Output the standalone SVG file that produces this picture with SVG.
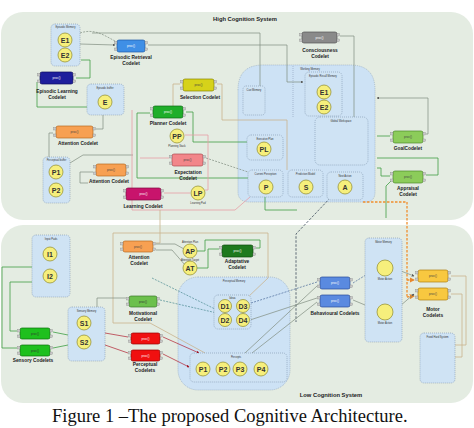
<svg xmlns="http://www.w3.org/2000/svg" width="474" height="428" viewBox="0 0 474 428">
<defs>
<marker id="arr" viewBox="0 0 6 6" refX="5" refY="3" markerWidth="4" markerHeight="4" orient="auto"><path d="M0,0 L6,3 L0,6 z" fill="#555"/></marker>
<marker id="arrO" viewBox="0 0 6 6" refX="5" refY="3" markerWidth="4" markerHeight="4" orient="auto"><path d="M0,0 L6,3 L0,6 z" fill="#e8862a"/></marker>
<marker id="arrR" viewBox="0 0 6 6" refX="5" refY="3" markerWidth="4" markerHeight="4" orient="auto"><path d="M0,0 L6,3 L0,6 z" fill="#a01020"/></marker>
</defs>
<style>
.panel{fill:#e4ece2}
.mem{fill:#cfe3f4;stroke:#7d93ad;stroke-width:0.6;stroke-dasharray:1 1}
.wm{fill:#cde2f5;stroke:#8aa0b8;stroke-width:0.6;stroke-dasharray:1 1}
.pin{fill:#c9c9c9;stroke:#777;stroke-width:0.3}
.cd{stroke-width:0.7}
.proc{font-family:"Liberation Sans",Arial,sans-serif;font-size:3px;text-anchor:middle}
.lbl{font-family:"Liberation Sans",Arial,sans-serif;font-size:4.8px;font-weight:bold;fill:#222;text-anchor:middle}
.tiny{font-family:"Liberation Sans",Arial,sans-serif;font-size:2.6px;fill:#333;text-anchor:middle}
.cir{fill:#f6ef7c;stroke:#8e8a2c;stroke-width:0.7}
.ct{font-family:"Liberation Sans",Arial,sans-serif;font-size:7px;font-weight:bold;fill:#333;text-anchor:middle}
.title{font-family:"Liberation Sans",Arial,sans-serif;font-size:5.8px;font-weight:bold;fill:#222;text-anchor:middle}
.caption{font-family:"Liberation Serif","Times New Roman",serif;font-size:18.5px;fill:#111}
.g{fill:none;stroke:#7f8c80;stroke-width:0.7}
.gr{fill:none;stroke:#3f9f45;stroke-width:0.8}
.pk{fill:none;stroke:#e6a0a6;stroke-width:0.8}
.tn{fill:none;stroke:#c9b48e;stroke-width:0.8}
.rd{fill:none;stroke:#b02030;stroke-width:0.7}
.dsh{stroke-dasharray:2 1.2}
.tl{fill:none;stroke:#4a8a90;stroke-width:0.7;stroke-dasharray:2 1.2}
.bl{fill:none;stroke:#4a6a9a;stroke-width:0.7;stroke-dasharray:2 1.2}
.or{fill:none;stroke:#ef8f2f;stroke-width:1.3;stroke-dasharray:2.5 1.5}
.dk{fill:none;stroke:#3b4a5a;stroke-width:0.8;stroke-dasharray:2.5 1.5}
</style>
<rect width="474" height="428" fill="#ffffff"/>
<g id="high-system">
<rect class="panel" x="1" y="12" width="472" height="208" rx="22"/>
<text class="title" x="245" y="21">High Cognition System</text>
</g>
<g id="low-system">
<rect class="panel" x="1" y="225" width="472" height="178" rx="22"/>
<text class="title" x="331" y="397">Low Cognition System</text>
</g>

<g id="working-memory">
<path class="wm" d="M238,90 Q238,65 263,65 H350 Q375,65 375,90 V192 Q375,202 365,202 H250 Q238,202 238,192 Z"/>
<path d="M293,117 V65" fill="none" stroke="#8aa0b8" stroke-width="0.6" stroke-dasharray="1 1"/>
<text class="tiny" x="310" y="69.5">Working Memory</text>
</g>
<g id="perceptual-memory">
<rect class="wm" x="178" y="277" width="112" height="113" rx="20"/>
<text class="tiny" x="234" y="282">Perceptual Memory</text>
</g>

<g id="connectors">
<path class="g" d="M80,44 L115,45" marker-end="url(#arr)"/>
<path class="g dsh" d="M80,33 C95,28 105,36 115,41"/>
<path class="g" d="M92,33 H260 V86"/>
<path class="g" d="M148,45 H287 V82 H303" marker-end="url(#arr)"/>
<path class="gr" d="M76,78 H90 V60 H81"/>
<path class="gr" d="M37,82 V107 H87"/>
<path class="g" d="M96,129 H103 V115"/>
<path class="g" d="M53,133 H49 V157"/>
<path class="g" d="M70,163 L83,155 H133"/>
<path class="g" d="M93,172 H80 V183 H88"/>
<path class="gr" d="M186,112 H193 V142 H247"/>
<path class="gr" d="M150,113 H137 V178 H248"/>
<path class="pk" d="M185,135 H208 V190 H205"/>
<path class="pk" d="M132,110 V210 H235 L250,197"/>
<path class="pk" d="M140,158 H169"/>
<path class="g dsh" d="M206,158 L248,172"/>
<path class="pk" d="M164,193 H190"/>
<path class="tn" d="M180,84 H173 V106"/>
<path class="tn" d="M217,84 H222 V120 H287 V170"/>
<path class="g" d="M340,36 H354 V117"/>
<path class="g" d="M426,134 H428 V98 H377" marker-end="url(#arr)"/>
<path class="gr" d="M390,136 H377"/>
<path class="gr" d="M426,175 H438 V158 H377"/>
<path class="gr" d="M390,176 H381 V168 H377"/>
<path class="gr" d="M391,181 L386,186 V218"/>
<path class="gr" d="M265,197 V210 H297"/>
<path class="tn" d="M160,210 V243 H156"/>
<path class="or" d="M363,202 H407 V297"/>
<path class="or" d="M407,280 H414" marker-end="url(#arrO)"/>
<path class="or" d="M407,297 L414,296" marker-end="url(#arrO)"/>
<path class="dk" d="M333,195 L296,234 V322"/>

<path class="gr" d="M17,331 H10 V282 H32"/>
<path class="gr" d="M17,348 H2 V267 H32"/>
<path class="gr" d="M53,332 L68,335"/>
<path class="gr" d="M53,348 L68,345"/>
<path class="rd" d="M105,333 L128,337"/>
<path class="rd" d="M105,345 L128,353"/>
<path class="rd" d="M163,337 L199,353" marker-end="url(#arrR)"/>
<path class="rd" d="M163,354 L189,367" marker-end="url(#arrR)"/>
<path class="tn" d="M205,353 L150,323 H113 V233 H268 V278 L247,298"/>
<path class="g" d="M97,307 V298 H126"/>
<path class="g" d="M156,244 H175 L184,249"/>
<path class="g" d="M156,250 H172 L185,265"/>
<path class="gr" d="M197,251 H205 V240 H260 V248 H256"/>
<path class="gr" d="M197,268 H208 V249 H219"/>
<path class="tl" d="M152,278 L217,310"/>
<path class="tl" d="M160,300 L217,313"/>
<path class="bl" d="M251,303 L317,282"/>
<path class="g" d="M250,320 L317,298"/>
<path class="g" d="M245,353 L317,286"/>
<path class="g" d="M252,353 L317,302"/>
<path class="bl" d="M353,283 L377,268"/>
<path class="g" d="M353,300 L377,310"/>
<path class="g" d="M393,268 L414,276" marker-end="url(#arr)"/>
<path class="g" d="M393,312 L414,294" marker-end="url(#arr)"/>
<path class="tn" d="M451,276 H466 V345 H455"/>
<path class="tn" d="M451,294 H462 V357 H455"/>
</g>

<!-- memories -->
<g id="episodic-memory"><rect class="mem" x="51" y="24" width="29" height="42" rx="4"/><text class="tiny" x="65.5" y="28">Episodic Memory</text>
<circle class="cir" cx="65" cy="40" r="7"/><text class="ct" x="65" y="42.5">E1</text>
<circle class="cir" cx="65" cy="55" r="7"/><text class="ct" x="65" y="57.5">E2</text></g>
<g id="episodic-buffer"><rect class="mem" x="87" y="84" width="37" height="31" rx="4"/><text class="tiny" x="105" y="88.5">Episodic buffer</text>
<circle class="cir" cx="105" cy="102" r="7"/><text class="ct" x="105" y="104.5">E</text></g>
<g id="perceptual-buffer"><rect class="mem" x="43" y="157" width="27" height="46" rx="4"/><text class="tiny" x="56.5" y="161">Perceptual buffer</text>
<circle class="cir" cx="56" cy="172" r="7"/><text class="ct" x="56" y="174.5">P1</text>
<circle class="cir" cx="56" cy="190" r="7"/><text class="ct" x="56" y="192.5">P2</text></g>
<g id="planning-stack"><circle class="cir" cx="177" cy="136" r="7"/><text class="ct" x="177" y="138.5">PP</text><text class="tiny" x="177" y="147">Planning Stack</text></g>
<g id="learning-pad"><circle class="cir" cx="198" cy="193" r="7"/><text class="ct" x="198" y="195.5">LP</text><text class="tiny" x="198" y="204">Learning Pad</text></g>
<g id="cue-memory"><rect class="mem" x="243" y="86" width="22" height="29" rx="3"/><text class="tiny" x="254" y="90.5">Cue Memory</text></g>
<g id="episodic-recall"><rect class="mem" x="305" y="72" width="37" height="44" rx="4"/><text class="tiny" x="323" y="76.5">Episodic Recall Memory</text>
<circle class="cir" cx="324" cy="92" r="7"/><text class="ct" x="324" y="94.5">E1</text>
<circle class="cir" cx="324" cy="107" r="7"/><text class="ct" x="324" y="109.5">E2</text></g>
<g id="global-workspace"><rect class="mem" x="315" y="117" width="53" height="48" rx="5"/><text class="tiny" x="341" y="121.5">Global Workspace</text></g>
<g id="executive-plan"><rect class="mem" x="247" y="135" width="36" height="25" rx="4"/><text class="tiny" x="265" y="139.5">Executive Plan</text>
<circle class="cir" cx="264" cy="149" r="7"/><text class="ct" x="264" y="151.5">PL</text></g>
<g id="current-perception"><rect class="mem" x="248" y="170" width="35" height="27" rx="4"/><text class="tiny" x="265.5" y="174.5">Current Perception</text>
<circle class="cir" cx="266" cy="187" r="7"/><text class="ct" x="266" y="189.5">P</text></g>
<g id="prediction-model"><rect class="mem" x="288" y="170" width="35" height="27" rx="4"/><text class="tiny" x="305.5" y="174.5">Prediction Model</text>
<circle class="cir" cx="306" cy="187" r="7"/><text class="ct" x="306" y="189.5">S</text></g>
<g id="next-action"><rect class="mem" x="327" y="172" width="36" height="28" rx="4"/><text class="tiny" x="345" y="176.5">Next Action</text>
<circle class="cir" cx="345" cy="187" r="7"/><text class="ct" x="345" y="189.5">A</text></g>

<g id="input-pads"><rect class="mem" x="32" y="235" width="38" height="62" rx="4"/><text class="tiny" x="51" y="239.5">Input Pads</text>
<circle class="cir" cx="50" cy="254" r="7"/><text class="ct" x="50" y="256.5">I1</text>
<circle class="cir" cx="50" cy="276" r="7"/><text class="ct" x="50" y="278.5">I2</text></g>
<g id="sensory-memory"><rect class="mem" x="68" y="307" width="37" height="54" rx="4"/><text class="tiny" x="86.5" y="311.5">Sensory Memory</text>
<circle class="cir" cx="84" cy="323" r="7"/><text class="ct" x="84" y="325.5">S1</text>
<circle class="cir" cx="84" cy="342" r="7"/><text class="ct" x="84" y="344.5">S2</text></g>
<g id="attention-plan"><text class="tiny" x="190" y="243">Attention Plan</text><circle class="cir" cx="190" cy="251" r="7"/><text class="ct" x="190" y="253.5">AP</text>
<text class="tiny" x="190" y="260.5">Attention Target</text><circle class="cir" cx="190" cy="268" r="7"/><text class="ct" x="190" y="270.5">AT</text></g>
<g id="ideas"><rect class="mem" x="214" y="295" width="37" height="34" rx="4"/><text class="tiny" x="232.5" y="299">Ideas</text>
<circle class="cir" cx="225" cy="306" r="6.5"/><text class="ct" x="225" y="308.5">D1</text>
<circle class="cir" cx="243" cy="306" r="6.5"/><text class="ct" x="243" y="308.5">D3</text>
<circle class="cir" cx="225" cy="320" r="6.5"/><text class="ct" x="225" y="322.5">D2</text>
<circle class="cir" cx="243" cy="320" r="6.5"/><text class="ct" x="243" y="322.5">D4</text></g>
<g id="percepts"><rect class="mem" x="190" y="353" width="97" height="29" rx="4"/><text class="tiny" x="236" y="357.5">Percepts</text>
<circle class="cir" cx="203" cy="369" r="7"/><text class="ct" x="203" y="371.5">P1</text>
<circle class="cir" cx="223" cy="369" r="7"/><text class="ct" x="223" y="371.5">P2</text>
<circle class="cir" cx="240" cy="369" r="7"/><text class="ct" x="240" y="371.5">P3</text>
<circle class="cir" cx="261" cy="369" r="7"/><text class="ct" x="261" y="371.5">P4</text></g>
<g id="motor-memory"><rect class="mem" x="365" y="238" width="37" height="104" rx="4"/><text class="tiny" x="383.5" y="242.5">Motor Memory</text>
<circle class="cir" cx="385" cy="268" r="8"/><text class="tiny" x="385" y="280">Motor Action</text>
<circle class="cir" cx="385" cy="312" r="8"/><text class="tiny" x="385" y="324">Motor Action</text></g>
<g id="fixed-system"><rect class="mem" x="420" y="333" width="35" height="50" rx="4"/><text class="tiny" x="437.5" y="337.5">Fixed Hard System</text></g>

<!-- codelets -->
<g id="episodic-retrieval-codelet"><rect class="cd" x="117" y="40" width="28" height="12" rx="2" fill="#3f8fe6" stroke="#1d5aa8"/>
<rect class="pin" x="114.5" y="41.5" width="2.5" height="2.5"/><rect class="pin" x="114.5" y="48" width="2.5" height="2.5"/><rect class="pin" x="145" y="41.5" width="2.5" height="2.5"/><rect class="pin" x="145" y="48" width="2.5" height="2.5"/>
<text class="proc" x="131" y="47" fill="#fff">proc()</text>
<text class="lbl" x="131" y="59">Episodic Retrieval</text><text class="lbl" x="131" y="65">Codelet</text></g>
<g id="episodic-learning-codelet"><rect class="cd" x="40" y="72" width="33" height="12" rx="2" fill="#1e1e9c" stroke="#0c0c60"/>
<rect class="pin" x="37.5" y="73.5" width="2.5" height="2.5"/><rect class="pin" x="37.5" y="80" width="2.5" height="2.5"/><rect class="pin" x="73" y="73.5" width="2.5" height="2.5"/><rect class="pin" x="73" y="80" width="2.5" height="2.5"/>
<text class="proc" x="56.5" y="79" fill="#fff">proc()</text>
<text class="lbl" x="57" y="93">Episodic Learning</text><text class="lbl" x="57" y="99">Codelet</text></g>
<g id="selection-codelet"><rect class="cd" x="183" y="79" width="31" height="12" rx="2" fill="#d6d21a" stroke="#8a8600"/>
<rect class="pin" x="180.5" y="80.5" width="2.5" height="2.5"/><rect class="pin" x="180.5" y="87" width="2.5" height="2.5"/><rect class="pin" x="214" y="80.5" width="2.5" height="2.5"/><rect class="pin" x="214" y="87" width="2.5" height="2.5"/>
<text class="proc" x="198.5" y="86" fill="#444">proc()</text>
<text class="lbl" x="200" y="99">Selection Codelet</text></g>
<g id="planner-codelet"><rect class="cd" x="153" y="106" width="30" height="12" rx="2" fill="#1fae2a" stroke="#0c6a12"/>
<rect class="pin" x="150.5" y="107.5" width="2.5" height="2.5"/><rect class="pin" x="150.5" y="114" width="2.5" height="2.5"/><rect class="pin" x="183" y="107.5" width="2.5" height="2.5"/><rect class="pin" x="183" y="114" width="2.5" height="2.5"/>
<text class="proc" x="168" y="113" fill="#fff">proc()</text>
<text class="lbl" x="168" y="125">Planner Codelet</text></g>
<g id="consciousness-codelet"><rect class="cd" x="302" y="32" width="35" height="11" rx="2" fill="#8a8a8a" stroke="#555"/>
<rect class="pin" x="299.5" y="33.5" width="2.5" height="2.5"/><rect class="pin" x="299.5" y="39" width="2.5" height="2.5"/><rect class="pin" x="337" y="33.5" width="2.5" height="2.5"/><rect class="pin" x="337" y="39" width="2.5" height="2.5"/>
<text class="proc" x="319.5" y="38.5" fill="#fff">proc()</text>
<text class="lbl" x="320" y="52">Consciousness</text><text class="lbl" x="320" y="58">Codelet</text></g>
<g id="attention-codelet-1"><rect class="cd" x="56" y="126" width="37" height="12" rx="2" fill="#f7a052" stroke="#b86a20"/>
<rect class="pin" x="53.5" y="127.5" width="2.5" height="2.5"/><rect class="pin" x="53.5" y="134" width="2.5" height="2.5"/><rect class="pin" x="93" y="127.5" width="2.5" height="2.5"/><rect class="pin" x="93" y="134" width="2.5" height="2.5"/>
<text class="proc" x="74.5" y="133" fill="#444">proc()</text>
<text class="lbl" x="78" y="145">Attention Codelet</text></g>
<g id="attention-codelet-2"><rect class="cd" x="96" y="164" width="30" height="12" rx="2" fill="#f7a052" stroke="#b86a20"/>
<rect class="pin" x="93.5" y="165.5" width="2.5" height="2.5"/><rect class="pin" x="93.5" y="172" width="2.5" height="2.5"/><rect class="pin" x="126" y="165.5" width="2.5" height="2.5"/><rect class="pin" x="126" y="172" width="2.5" height="2.5"/>
<text class="proc" x="111" y="171" fill="#444">proc()</text>
<text class="lbl" x="109" y="183">Attention Codelet</text></g>
<g id="expectation-codelet"><rect class="cd" x="172" y="154" width="31" height="12" rx="2" fill="#f2868a" stroke="#b04a50"/>
<rect class="pin" x="169.5" y="155.5" width="2.5" height="2.5"/><rect class="pin" x="169.5" y="162" width="2.5" height="2.5"/><rect class="pin" x="203" y="155.5" width="2.5" height="2.5"/><rect class="pin" x="203" y="162" width="2.5" height="2.5"/>
<text class="proc" x="187.5" y="161" fill="#444">proc()</text>
<text class="lbl" x="188" y="174">Expectation</text><text class="lbl" x="188" y="180">Codelet</text></g>
<g id="learning-codelet"><rect class="cd" x="126" y="188" width="35" height="12" rx="2" fill="#c8146c" stroke="#800840"/>
<rect class="pin" x="123.5" y="189.5" width="2.5" height="2.5"/><rect class="pin" x="123.5" y="196" width="2.5" height="2.5"/><rect class="pin" x="161" y="189.5" width="2.5" height="2.5"/><rect class="pin" x="161" y="196" width="2.5" height="2.5"/>
<text class="proc" x="143.5" y="195" fill="#fff">proc()</text>
<text class="lbl" x="143" y="208">Learning Codelet</text></g>
<g id="goal-codelet"><rect class="cd" x="393" y="131" width="30" height="12" rx="2" fill="#8ccc5a" stroke="#4a8a2a"/>
<rect class="pin" x="390.5" y="132.5" width="2.5" height="2.5"/><rect class="pin" x="390.5" y="139" width="2.5" height="2.5"/><rect class="pin" x="423" y="132.5" width="2.5" height="2.5"/><rect class="pin" x="423" y="139" width="2.5" height="2.5"/>
<text class="proc" x="408" y="138" fill="#444">proc()</text>
<text class="lbl" x="408" y="150">GoalCodelet</text></g>
<g id="appraisal-codelet"><rect class="cd" x="393" y="171" width="30" height="12" rx="2" fill="#8ccc5a" stroke="#4a8a2a"/>
<rect class="pin" x="390.5" y="172.5" width="2.5" height="2.5"/><rect class="pin" x="390.5" y="179" width="2.5" height="2.5"/><rect class="pin" x="423" y="172.5" width="2.5" height="2.5"/><rect class="pin" x="423" y="179" width="2.5" height="2.5"/>
<text class="proc" x="408" y="178" fill="#444">proc()</text>
<text class="lbl" x="408" y="190">Appraisal</text><text class="lbl" x="408" y="196">Codelet</text></g>

<g id="attention-codelet-low"><rect class="cd" x="123" y="241" width="30" height="11" rx="2" fill="#f7a052" stroke="#b86a20"/>
<rect class="pin" x="120.5" y="242.5" width="2.5" height="2.5"/><rect class="pin" x="120.5" y="248" width="2.5" height="2.5"/><rect class="pin" x="153" y="242.5" width="2.5" height="2.5"/><rect class="pin" x="153" y="248" width="2.5" height="2.5"/>
<text class="proc" x="138" y="247.5" fill="#444">proc()</text>
<text class="lbl" x="139" y="259">Attention</text><text class="lbl" x="139" y="265">Codelet</text></g>
<g id="adaptative-codelet"><rect class="cd" x="222" y="245" width="31" height="12" rx="2" fill="#1e7a1e" stroke="#0c4a0c"/>
<rect class="pin" x="219.5" y="246.5" width="2.5" height="2.5"/><rect class="pin" x="219.5" y="253" width="2.5" height="2.5"/><rect class="pin" x="253" y="246.5" width="2.5" height="2.5"/><rect class="pin" x="253" y="253" width="2.5" height="2.5"/>
<text class="proc" x="237.5" y="252" fill="#fff">proc()</text>
<text class="lbl" x="237" y="263">Adaptative</text><text class="lbl" x="237" y="269">Codelet</text></g>
<g id="motivational-codelet"><rect class="cd" x="129" y="296" width="28" height="11" rx="2" fill="#6cc04c" stroke="#3a7a2a"/>
<rect class="pin" x="126.5" y="297.5" width="2.5" height="2.5"/><rect class="pin" x="126.5" y="303" width="2.5" height="2.5"/><rect class="pin" x="157" y="297.5" width="2.5" height="2.5"/><rect class="pin" x="157" y="303" width="2.5" height="2.5"/>
<text class="proc" x="143" y="302.5" fill="#333">proc()</text>
<text class="lbl" x="143" y="315">Motivational</text><text class="lbl" x="143" y="321">Codelet</text></g>
<g id="sensory-codelets">
<rect class="cd" x="20" y="328" width="30" height="11" rx="2" fill="#1ec01e" stroke="#0a700a"/>
<rect class="pin" x="17.5" y="329.5" width="2.5" height="2.5"/><rect class="pin" x="17.5" y="335" width="2.5" height="2.5"/><rect class="pin" x="50" y="329.5" width="2.5" height="2.5"/><rect class="pin" x="50" y="335" width="2.5" height="2.5"/>
<text class="proc" x="35" y="334.5" fill="#333">proc()</text>
<rect class="cd" x="20" y="345" width="30" height="11" rx="2" fill="#1ec01e" stroke="#0a700a"/>
<rect class="pin" x="17.5" y="346.5" width="2.5" height="2.5"/><rect class="pin" x="17.5" y="352" width="2.5" height="2.5"/><rect class="pin" x="50" y="346.5" width="2.5" height="2.5"/><rect class="pin" x="50" y="352" width="2.5" height="2.5"/>
<text class="proc" x="35" y="351.5" fill="#333">proc()</text>
<text class="lbl" x="33" y="362">Sensory Codelets</text></g>
<g id="perceptual-codelets">
<rect class="cd" x="131" y="333" width="29" height="11" rx="2" fill="#f01010" stroke="#900"/>
<rect class="pin" x="128.5" y="334.5" width="2.5" height="2.5"/><rect class="pin" x="128.5" y="340" width="2.5" height="2.5"/><rect class="pin" x="160" y="334.5" width="2.5" height="2.5"/><rect class="pin" x="160" y="340" width="2.5" height="2.5"/>
<text class="proc" x="145.5" y="339.5" fill="#fff">proc()</text>
<rect class="cd" x="131" y="350" width="29" height="11" rx="2" fill="#f01010" stroke="#900"/>
<rect class="pin" x="128.5" y="351.5" width="2.5" height="2.5"/><rect class="pin" x="128.5" y="357" width="2.5" height="2.5"/><rect class="pin" x="160" y="351.5" width="2.5" height="2.5"/><rect class="pin" x="160" y="357" width="2.5" height="2.5"/>
<text class="proc" x="145.5" y="356.5" fill="#fff">proc()</text>
<text class="lbl" x="145" y="366">Perceptual</text><text class="lbl" x="145" y="372">Codelets</text></g>
<g id="behavioural-codelets">
<rect class="cd" x="320" y="277" width="30" height="12" rx="2" fill="#5a8ae0" stroke="#2a4a9a"/>
<rect class="pin" x="317.5" y="278.5" width="2.5" height="2.5"/><rect class="pin" x="317.5" y="285" width="2.5" height="2.5"/><rect class="pin" x="350" y="278.5" width="2.5" height="2.5"/><rect class="pin" x="350" y="285" width="2.5" height="2.5"/>
<text class="proc" x="335" y="284" fill="#fff">proc()</text>
<rect class="cd" x="320" y="295" width="30" height="12" rx="2" fill="#5a8ae0" stroke="#2a4a9a"/>
<rect class="pin" x="317.5" y="296.5" width="2.5" height="2.5"/><rect class="pin" x="317.5" y="303" width="2.5" height="2.5"/><rect class="pin" x="350" y="296.5" width="2.5" height="2.5"/><rect class="pin" x="350" y="303" width="2.5" height="2.5"/>
<text class="proc" x="335" y="302" fill="#fff">proc()</text>
<text class="lbl" x="335" y="315">Behavioural Codelets</text></g>
<g id="motor-codelets">
<rect class="cd" x="418" y="270" width="30" height="12" rx="2" fill="#f8c840" stroke="#b08010"/>
<rect class="pin" x="415.5" y="271.5" width="2.5" height="2.5"/><rect class="pin" x="415.5" y="278" width="2.5" height="2.5"/><rect class="pin" x="448" y="271.5" width="2.5" height="2.5"/><rect class="pin" x="448" y="278" width="2.5" height="2.5"/>
<text class="proc" x="433" y="277" fill="#444">proc()</text>
<rect class="cd" x="418" y="288" width="30" height="12" rx="2" fill="#f8c840" stroke="#b08010"/>
<rect class="pin" x="415.5" y="289.5" width="2.5" height="2.5"/><rect class="pin" x="415.5" y="296" width="2.5" height="2.5"/><rect class="pin" x="448" y="289.5" width="2.5" height="2.5"/><rect class="pin" x="448" y="296" width="2.5" height="2.5"/>
<text class="proc" x="433" y="295" fill="#444">proc()</text>
<text class="lbl" x="433" y="311">Motor</text><text class="lbl" x="433" y="317">Codelets</text></g>

<text class="caption" x="52" y="422">Figure 1 –The proposed Cognitive Architecture.</text>
</svg>
